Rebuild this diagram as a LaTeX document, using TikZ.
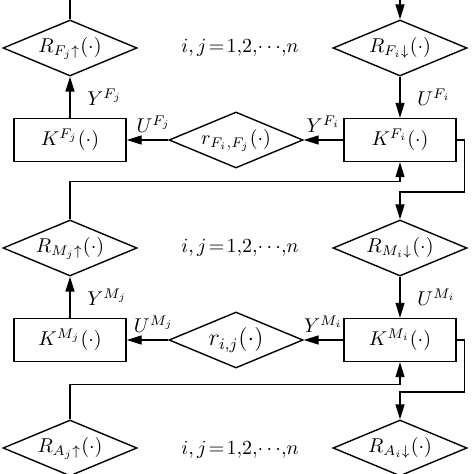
\documentclass[tikz,border=0pt]{standalone}
\usetikzlibrary{shapes.geometric,arrows.meta}
\begin{document}
\begin{tikzpicture}[x=0.5pt, y=-0.5pt, line width=0.7pt,
    relbox/.style={draw, diamond, aspect=2.4, inner sep=0pt, minimum width=67pt, minimum height=28pt},
    ctrlbox/.style={draw, rectangle, inner sep=0pt, minimum width=56pt, minimum height=21.5pt},
    >={Triangle[length=7.5pt,width=4.5pt]}]
    \clip (0,0) rectangle (474,474);
    % F layer
    \coordinate (inL) at (70,0);
    \coordinate (inR) at (400,0);
    \node[relbox] (RFj) at (70,48) {$R_{F_j\uparrow}(\cdot)$};
    \node[relbox] (RFi) at (400,48) {$R_{F_i\downarrow}(\cdot)$};
    \node (idxF) at (240,48) {$i,j\!=\!1{,}2{,}\!\cdots\!{,}n$};
    \node[ctrlbox] (KFj) at (70,140) {$K^{F_j}(\cdot)$};
    \node[relbox] (rF) at (236,140) {$r_{F_i,F_j}(\cdot)$};
    \node[ctrlbox] (KFi) at (400,140) {$K^{F_i}(\cdot)$};
    \draw (inL) -- (RFj.north);
    \draw[->] (inR) -- (RFi.north);
    \draw[->] (RFi) -- node[right=5pt] {$U^{F_i}$} (KFi);
    \draw[->] (KFi) -- node[above] {$Y^{F_i}$} (rF);
    \draw[->] (rF) -- node[above, pos=0.35] {$U^{F_j}$} (KFj);
    \draw[->] (KFj) -- node[right=5pt] {$Y^{F_j}$} (RFj);
    % M layer
    \node[relbox] (RMj) at (70,248) {$R_{M_j\uparrow}(\cdot)$};
    \node[relbox] (RMi) at (400,248) {$R_{M_i\downarrow}(\cdot)$};
    \node (idxM) at (240,248) {$i,j\!=\!1{,}2{,}\!\cdots\!{,}n$};
    \node[ctrlbox] (KMj) at (70,340) {$K^{M_j}(\cdot)$};
    \node[relbox] (rM) at (236,340) {\large $r_{i,j}(\cdot)$};
    \node[ctrlbox] (KMi) at (400,340) {$K^{M_i}(\cdot)$};
    \draw[->] (RMj.north) -- ++(0,-38) -| (KFi.south);
    \draw[->] (KFi.east) -- ++(8,0) -- ++(0,52) -| (RMi.north);
    \draw[->] (RMi) -- node[right=5pt] {$U^{M_i}$} (KMi);
    \draw[->] (KMi) -- node[above] {$Y^{M_i}$} (rM);
    \draw[->] (rM) -- node[above, pos=0.35] {$U^{M_j}$} (KMj);
    \draw[->] (KMj) -- node[right=5pt] {$Y^{M_j}$} (RMj);
    % A layer
    \node[relbox] (RAj) at (70,448) {$R_{A_j\uparrow}(\cdot)$};
    \node[relbox] (RAi) at (400,448) {$R_{A_i\downarrow}(\cdot)$};
    \node (idxA) at (240,450) {$i,j\!=\!1{,}2{,}\!\cdots\!{,}n$};
    \draw[->] (RAj.north) -- ++(0,-35) -| (KMi.south);
    \draw[->] (KMi.east) -- ++(8,0) -- ++(0,52) -| (RAi.north);
\end{tikzpicture}
\end{document}
